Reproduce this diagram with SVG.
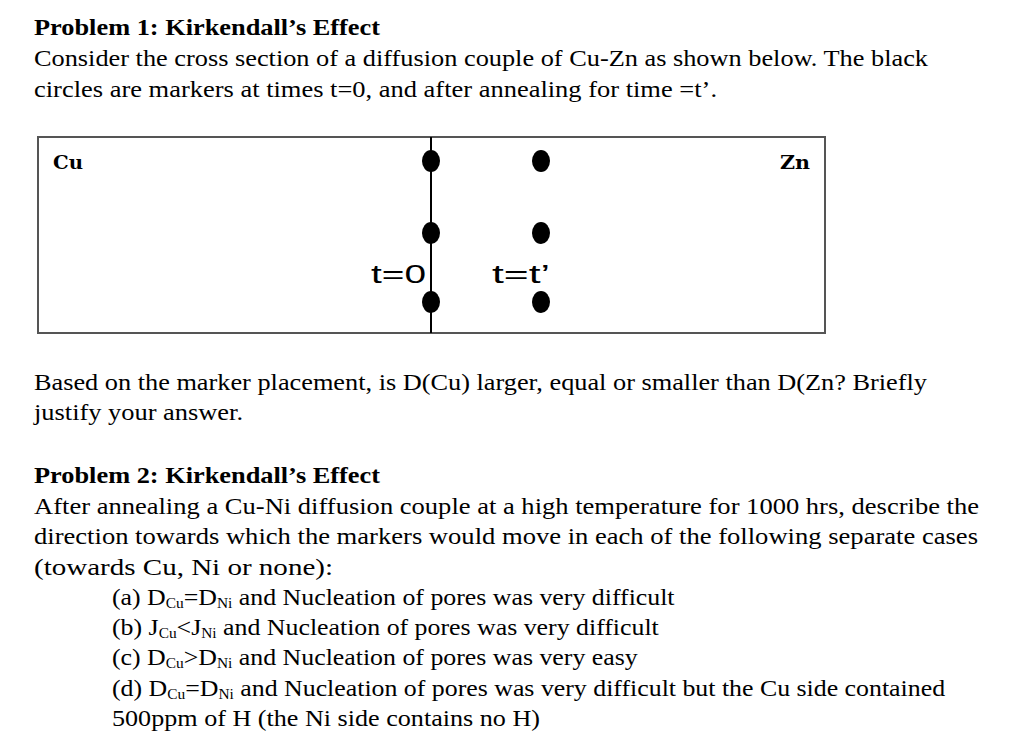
<svg xmlns="http://www.w3.org/2000/svg" width="1024" height="745" viewBox="0 0 1024 745">
<style>
text{font-family:"Liberation Serif",serif;font-size:23.5px;fill:#000}
.b{font-weight:bold}
.s{font-size:14px}
.c{font-family:"DejaVu Serif Condensed","DejaVu Serif",serif;font-size:19px;font-weight:bold}
.l{font-family:"Liberation Sans",sans-serif;font-size:25px}
</style>
<rect width="1024" height="745" fill="#fff"/>
<text class="b" x="34" y="35" textLength="346" lengthAdjust="spacingAndGlyphs">Problem 1: Kirkendall’s Effect</text>
<text x="34" y="66" textLength="894" lengthAdjust="spacingAndGlyphs">Consider the cross section of a diffusion couple of Cu-Zn as shown below. The black</text>
<text x="34" y="97" textLength="683" lengthAdjust="spacingAndGlyphs">circles are markers at times t=0, and after annealing for time =t’.</text>
<g id="couple">
<rect x="38" y="137" width="787" height="196" fill="none" stroke="#555" stroke-width="2"/>
<text class="c" x="53" y="169" textLength="30" lengthAdjust="spacingAndGlyphs">Cu</text>
<text class="c" x="780" y="169" textLength="30" lengthAdjust="spacingAndGlyphs">Zn</text>
</g>
<g id="interface"><line x1="431" y1="137" x2="431" y2="333" stroke="#000" stroke-width="2"/></g>
<g id="markers" fill="#000">
<ellipse cx="431" cy="161" rx="9" ry="11"/><ellipse cx="431" cy="233" rx="9" ry="11"/><ellipse cx="431" cy="302" rx="9" ry="11"/>
<ellipse cx="541" cy="161" rx="9" ry="11"/><ellipse cx="541" cy="233" rx="9" ry="11"/><ellipse cx="541" cy="302" rx="9" ry="11"/>
</g>
<text class="l" x="371" y="283" textLength="55" lengthAdjust="spacingAndGlyphs">t=0</text>
<text class="l" x="492" y="283" textLength="58" lengthAdjust="spacingAndGlyphs">t=t’</text>
<text x="34" y="390" textLength="893" lengthAdjust="spacingAndGlyphs">Based on the marker placement, is D(Cu) larger, equal or smaller than D(Zn? Briefly</text>
<text x="34" y="420" textLength="209" lengthAdjust="spacingAndGlyphs">justify your answer.</text>
<text class="b" x="34" y="483" textLength="346" lengthAdjust="spacingAndGlyphs">Problem 2: Kirkendall’s Effect</text>
<text x="34" y="514" textLength="945" lengthAdjust="spacingAndGlyphs">After annealing a Cu-Ni diffusion couple at a high temperature for 1000 hrs, describe the</text>
<text x="34" y="544" textLength="944" lengthAdjust="spacingAndGlyphs">direction towards which the markers would move in each of the following separate cases</text>
<text x="34" y="575" textLength="299" lengthAdjust="spacingAndGlyphs">(towards Cu, Ni or none):</text>
<g transform="translate(112,0) scale(1.1,1) translate(-112,0)">
<text x="112" y="605">(a) D<tspan class="s" dy="3">Cu</tspan><tspan dy="-3">=D</tspan><tspan class="s" dy="3">Ni</tspan><tspan dy="-3"> and Nucleation of pores was very difficult</tspan></text>
<text x="112" y="635">(b) J<tspan class="s" dy="3">Cu</tspan><tspan dy="-3">&lt;J</tspan><tspan class="s" dy="3">Ni</tspan><tspan dy="-3"> and Nucleation of pores was very difficult</tspan></text>
<text x="112" y="665">(c) D<tspan class="s" dy="3">Cu</tspan><tspan dy="-3">&gt;D</tspan><tspan class="s" dy="3">Ni</tspan><tspan dy="-3">  and Nucleation of pores was very easy</tspan></text>
<text x="112" y="696">(d) D<tspan class="s" dy="3">Cu</tspan><tspan dy="-3">=D</tspan><tspan class="s" dy="3">Ni</tspan><tspan dy="-3"> and Nucleation of pores was very difficult but the Cu side contained</tspan></text>
</g>
<text x="112" y="726" textLength="428" lengthAdjust="spacingAndGlyphs">500ppm of H (the Ni side contains no H)</text>
</svg>
